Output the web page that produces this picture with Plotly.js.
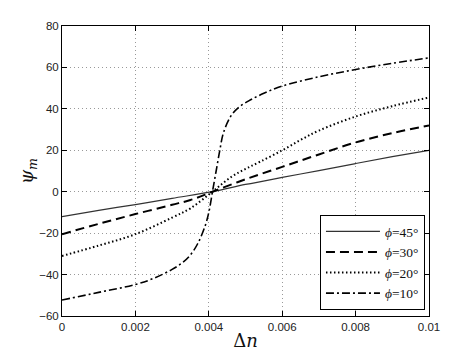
<!DOCTYPE html>
<html>
<head>
<meta charset="utf-8">
<script src="https://cdn.plot.ly/plotly-3.0.1.min.js"></script>
<style>html,body{margin:0;padding:0;background:#fff;}#chart{width:474px;height:355px;}</style>
</head>
<body>
<div id="chart"></div>
<script>
// phi = 45 deg (solid)
const x45 = [0, 0.001, 0.002, 0.003, 0.0041, 0.005, 0.006, 0.007, 0.008, 0.009, 0.01];
const y45 = [-12, -9, -6.2, -3.2, 0, 3.5, 6.9, 10.2, 13.6, 16.9, 20];
// phi = 30 deg (dashed)
const x30 = [0, 0.001, 0.002, 0.003, 0.0035, 0.0041, 0.005, 0.006, 0.007, 0.008, 0.009, 0.01];
const y30 = [-20.5, -15.5, -10.8, -6.3, -4, 0, 6, 12, 18, 23.8, 28.3, 32];
// phi = 20 deg (dotted)
const x20 = [0, 0.001, 0.002, 0.003, 0.0035, 0.0041, 0.0046, 0.005, 0.0054, 0.006, 0.0065, 0.007, 0.008, 0.009, 0.01];
const y20 = [-31, -26, -20.5, -12.5, -8, 0, 7, 11, 14.5, 20, 25, 29.5, 36.3, 41.3, 45.5];
// phi = 10 deg (dash-dot)
const x10 = [0, 0.001, 0.002, 0.0025, 0.003, 0.0033, 0.0035, 0.0037, 0.0039, 0.004, 0.0041, 0.0042, 0.0043, 0.0044, 0.0046, 0.0048, 0.0051, 0.0055, 0.006, 0.007, 0.008, 0.009, 0.01];
const y10 = [-52.3, -48.6, -44.8, -41.8, -37.5, -34, -30.5, -25, -16.5, -10, 0, 10, 20, 28.5, 36.5, 40.5, 44, 47.5, 51, 55.5, 59, 62, 64.6];

const names = ['<i>ϕ</i>=45°', '<i>ϕ</i>=30°', '<i>ϕ</i>=20°', '<i>ϕ</i>=10°'];
const xTicks = [0, 0.002, 0.004, 0.006, 0.008, 0.01];
const xTickText = ['0', '0.002', '0.004', '0.006', '0.008', '0.01'];
const yTicks = [-60, -40, -20, 0, 20, 40, 60, 80];

const traces = [
  {x: x45, y: y45, name: names[0], mode: 'lines', line: {color: '#333', width: 1.2, shape: 'spline'}},
  {x: x30, y: y30, name: names[1], mode: 'lines', line: {color: '#000', width: 2, dash: '9px,5px', shape: 'spline'}},
  {x: x20, y: y20, name: names[2], mode: 'lines', line: {color: '#000', width: 2, dash: '1.5px,2.5px', shape: 'spline'}},
  {x: x10, y: y10, name: names[3], mode: 'lines', line: {color: '#000', width: 1.6, dash: '8px,3px,2px,3px', shape: 'spline'}}
];

const axisCommon = {
  showline: true, linecolor: '#000', linewidth: 1, mirror: 'ticks',
  ticks: 'inside', ticklen: 5, tickcolor: '#000', tickwidth: 1,
  showgrid: true, gridcolor: '#999', griddash: '1px,3px', gridwidth: 1,
  zeroline: false,
  tickfont: {family: 'Liberation Sans, Arial, sans-serif', size: 11.5, color: '#222'}
};

const layout = {
  width: 474, height: 355,
  margin: {l: 62, r: 45, t: 26, b: 39},
  paper_bgcolor: '#fff', plot_bgcolor: '#fff',
  showlegend: true,
  xaxis: Object.assign({}, axisCommon, {
    range: [0, 0.01], tickvals: xTicks, ticktext: xTickText,
    title: {text: 'Δ<i>n</i>', font: {family: 'DejaVu Serif, Liberation Serif, serif', size: 18, color: '#111'}, standoff: 2}
  }),
  yaxis: Object.assign({}, axisCommon, {
    range: [-60, 80], tickvals: yTicks,
    title: {text: '<i>ψ<sub>m</sub></i>', font: {family: 'DejaVu Serif, Liberation Serif, serif', size: 18, color: '#111'}, standoff: 0}
  }),
  legend: {
    x: 0.989, y: 0.02, xanchor: 'right', yanchor: 'bottom',
    bgcolor: '#fff', bordercolor: '#000', borderwidth: 1,
    font: {family: 'Liberation Serif, DejaVu Serif, serif', size: 13.5, color: '#111'},
    tracegroupgap: 0, itemwidth: 54
  }
};

Plotly.newPlot('chart', traces, layout, {displayModeBar: false, staticPlot: true});
</script>
</body>
</html>
